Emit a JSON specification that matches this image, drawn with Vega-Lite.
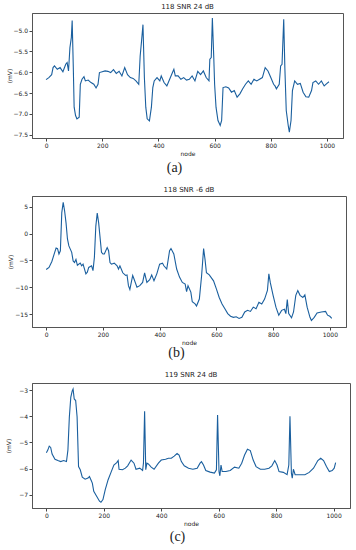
{
  "$schema": "https://vega.github.io/schema/vega-lite/v6.json",
  "padding": {"left": 4, "top": 2, "right": 2, "bottom": 2},
  "background": "white",
  "datasets": {
    "a": [
      {"node": 0, "mv": -6.18}, {"node": 10, "mv": -6.13}, {"node": 20, "mv": -6.06}, {"node": 25, "mv": -5.89}, {"node": 30, "mv": -5.85}, {"node": 40, "mv": -5.93}, {"node": 50, "mv": -5.89}, {"node": 60, "mv": -5.99}, {"node": 70, "mv": -5.81}, {"node": 75, "mv": -5.77}, {"node": 80, "mv": -5.97}, {"node": 85, "mv": -5.41}, {"node": 90, "mv": -5.17}, {"node": 93, "mv": -4.76}, {"node": 97, "mv": -5.89}, {"node": 100, "mv": -6.84}, {"node": 105, "mv": -7.04}, {"node": 110, "mv": -7.12}, {"node": 118, "mv": -7.08}, {"node": 122, "mv": -6.29}, {"node": 128, "mv": -6.17}, {"node": 135, "mv": -6.11}, {"node": 140, "mv": -6.21}, {"node": 150, "mv": -6.19}, {"node": 160, "mv": -6.25}, {"node": 170, "mv": -6.29}, {"node": 178, "mv": -6.38}, {"node": 185, "mv": -6.29}, {"node": 190, "mv": -6.01}, {"node": 200, "mv": -5.99}, {"node": 210, "mv": -5.97}, {"node": 220, "mv": -5.98}, {"node": 230, "mv": -6.01}, {"node": 240, "mv": -5.94}, {"node": 250, "mv": -6.03}, {"node": 260, "mv": -5.98}, {"node": 270, "mv": -6.09}, {"node": 280, "mv": -5.89}, {"node": 290, "mv": -6.06}, {"node": 300, "mv": -6.13}, {"node": 310, "mv": -6.15}, {"node": 320, "mv": -6.21}, {"node": 330, "mv": -6.29}, {"node": 335, "mv": -5.61}, {"node": 340, "mv": -5.25}, {"node": 345, "mv": -4.86}, {"node": 350, "mv": -6.13}, {"node": 355, "mv": -6.84}, {"node": 360, "mv": -7.12}, {"node": 368, "mv": -7.17}, {"node": 375, "mv": -6.84}, {"node": 380, "mv": -6.37}, {"node": 385, "mv": -6.21}, {"node": 395, "mv": -6.13}, {"node": 405, "mv": -6.21}, {"node": 410, "mv": -6.09}, {"node": 420, "mv": -6.25}, {"node": 430, "mv": -6.33}, {"node": 440, "mv": -6.17}, {"node": 450, "mv": -6.01}, {"node": 455, "mv": -5.93}, {"node": 460, "mv": -6.09}, {"node": 470, "mv": -6.09}, {"node": 480, "mv": -6.17}, {"node": 490, "mv": -6.13}, {"node": 500, "mv": -6.19}, {"node": 510, "mv": -6.17}, {"node": 520, "mv": -6.09}, {"node": 530, "mv": -6.21}, {"node": 540, "mv": -5.98}, {"node": 550, "mv": -6.06}, {"node": 560, "mv": -5.97}, {"node": 570, "mv": -6.13}, {"node": 580, "mv": -6.21}, {"node": 583, "mv": -5.69}, {"node": 588, "mv": -5.65}, {"node": 592, "mv": -4.7}, {"node": 597, "mv": -5.65}, {"node": 600, "mv": -6.29}, {"node": 605, "mv": -6.84}, {"node": 612, "mv": -7.16}, {"node": 620, "mv": -7.28}, {"node": 625, "mv": -7.16}, {"node": 630, "mv": -6.37}, {"node": 640, "mv": -6.35}, {"node": 650, "mv": -6.38}, {"node": 660, "mv": -6.48}, {"node": 670, "mv": -6.44}, {"node": 680, "mv": -6.6}, {"node": 690, "mv": -6.52}, {"node": 700, "mv": -6.4}, {"node": 710, "mv": -6.29}, {"node": 720, "mv": -6.21}, {"node": 730, "mv": -6.29}, {"node": 740, "mv": -6.17}, {"node": 750, "mv": -6.21}, {"node": 760, "mv": -6.17}, {"node": 770, "mv": -6.13}, {"node": 780, "mv": -5.89}, {"node": 790, "mv": -5.97}, {"node": 800, "mv": -6.13}, {"node": 810, "mv": -6.29}, {"node": 815, "mv": -6.33}, {"node": 820, "mv": -6.4}, {"node": 830, "mv": -6.29}, {"node": 835, "mv": -5.85}, {"node": 840, "mv": -5.81}, {"node": 846, "mv": -4.73}, {"node": 850, "mv": -5.89}, {"node": 855, "mv": -6.92}, {"node": 862, "mv": -7.28}, {"node": 866, "mv": -7.44}, {"node": 872, "mv": -7.16}, {"node": 877, "mv": -6.44}, {"node": 885, "mv": -6.21}, {"node": 895, "mv": -6.29}, {"node": 905, "mv": -6.27}, {"node": 915, "mv": -6.48}, {"node": 925, "mv": -6.59}, {"node": 935, "mv": -6.6}, {"node": 945, "mv": -6.44}, {"node": 950, "mv": -6.25}, {"node": 960, "mv": -6.21}, {"node": 970, "mv": -6.29}, {"node": 980, "mv": -6.21}, {"node": 990, "mv": -6.33}, {"node": 1000, "mv": -6.27}, {"node": 1007, "mv": -6.23}
    ],
    "b": [
      {"node": 0, "mv": -6.7}, {"node": 10, "mv": -6.3}, {"node": 20, "mv": -5.2}, {"node": 30, "mv": -3.5}, {"node": 35, "mv": -2.7}, {"node": 40, "mv": -2.8}, {"node": 45, "mv": -3.8}, {"node": 50, "mv": -3.2}, {"node": 55, "mv": 3.9}, {"node": 60, "mv": 5.8}, {"node": 65, "mv": 4.2}, {"node": 70, "mv": 2.0}, {"node": 75, "mv": -1.0}, {"node": 80, "mv": -2.3}, {"node": 90, "mv": -3.5}, {"node": 95, "mv": -5.1}, {"node": 100, "mv": -5.4}, {"node": 105, "mv": -4.8}, {"node": 110, "mv": -5.9}, {"node": 120, "mv": -5.5}, {"node": 125, "mv": -6.0}, {"node": 130, "mv": -5.7}, {"node": 140, "mv": -7.5}, {"node": 145, "mv": -7.2}, {"node": 150, "mv": -6.3}, {"node": 160, "mv": -6.0}, {"node": 165, "mv": -6.9}, {"node": 170, "mv": -4.4}, {"node": 175, "mv": 1.4}, {"node": 180, "mv": 3.8}, {"node": 185, "mv": 2.0}, {"node": 195, "mv": -3.5}, {"node": 200, "mv": -3.8}, {"node": 205, "mv": -3.8}, {"node": 215, "mv": -2.6}, {"node": 220, "mv": -3.2}, {"node": 225, "mv": -5.4}, {"node": 230, "mv": -5.7}, {"node": 240, "mv": -5.5}, {"node": 250, "mv": -6.0}, {"node": 255, "mv": -6.6}, {"node": 260, "mv": -6.0}, {"node": 270, "mv": -7.3}, {"node": 280, "mv": -7.8}, {"node": 285, "mv": -7.7}, {"node": 290, "mv": -9.7}, {"node": 295, "mv": -10.4}, {"node": 305, "mv": -7.8}, {"node": 310, "mv": -8.5}, {"node": 320, "mv": -10.0}, {"node": 330, "mv": -9.7}, {"node": 340, "mv": -9.1}, {"node": 347, "mv": -7.3}, {"node": 355, "mv": -9.1}, {"node": 365, "mv": -8.6}, {"node": 372, "mv": -7.7}, {"node": 380, "mv": -8.8}, {"node": 390, "mv": -7.5}, {"node": 400, "mv": -5.7}, {"node": 410, "mv": -5.5}, {"node": 415, "mv": -6.0}, {"node": 425, "mv": -6.6}, {"node": 435, "mv": -3.2}, {"node": 440, "mv": -2.8}, {"node": 450, "mv": -3.8}, {"node": 460, "mv": -6.6}, {"node": 470, "mv": -8.1}, {"node": 480, "mv": -9.1}, {"node": 490, "mv": -9.4}, {"node": 495, "mv": -10.8}, {"node": 500, "mv": -9.7}, {"node": 510, "mv": -10.9}, {"node": 515, "mv": -12.7}, {"node": 525, "mv": -13.1}, {"node": 530, "mv": -13.5}, {"node": 540, "mv": -12.2}, {"node": 548, "mv": -7.8}, {"node": 555, "mv": -2.8}, {"node": 560, "mv": -4.8}, {"node": 565, "mv": -7.3}, {"node": 575, "mv": -7.7}, {"node": 590, "mv": -8.8}, {"node": 600, "mv": -10.3}, {"node": 610, "mv": -11.9}, {"node": 620, "mv": -13.1}, {"node": 630, "mv": -14.0}, {"node": 640, "mv": -14.9}, {"node": 650, "mv": -15.4}, {"node": 660, "mv": -15.6}, {"node": 670, "mv": -15.5}, {"node": 680, "mv": -15.8}, {"node": 690, "mv": -15.6}, {"node": 700, "mv": -14.6}, {"node": 710, "mv": -14.3}, {"node": 720, "mv": -14.5}, {"node": 730, "mv": -13.7}, {"node": 740, "mv": -14.0}, {"node": 750, "mv": -12.8}, {"node": 760, "mv": -13.1}, {"node": 770, "mv": -12.2}, {"node": 780, "mv": -10.6}, {"node": 785, "mv": -7.5}, {"node": 790, "mv": -9.1}, {"node": 800, "mv": -11.5}, {"node": 810, "mv": -13.7}, {"node": 820, "mv": -15.2}, {"node": 830, "mv": -14.3}, {"node": 840, "mv": -14.1}, {"node": 845, "mv": -14.9}, {"node": 850, "mv": -12.3}, {"node": 855, "mv": -14.9}, {"node": 865, "mv": -15.7}, {"node": 872, "mv": -14.6}, {"node": 880, "mv": -11.5}, {"node": 887, "mv": -10.6}, {"node": 895, "mv": -11.5}, {"node": 905, "mv": -11.9}, {"node": 912, "mv": -11.4}, {"node": 920, "mv": -13.7}, {"node": 930, "mv": -15.6}, {"node": 935, "mv": -16.2}, {"node": 945, "mv": -15.6}, {"node": 955, "mv": -14.8}, {"node": 970, "mv": -14.6}, {"node": 985, "mv": -14.5}, {"node": 992, "mv": -15.2}, {"node": 1000, "mv": -15.4}, {"node": 1007, "mv": -15.8}
    ],
    "c": [
      {"node": 0, "mv": -5.39}, {"node": 5, "mv": -5.29}, {"node": 10, "mv": -5.14}, {"node": 15, "mv": -5.19}, {"node": 20, "mv": -5.44}, {"node": 30, "mv": -5.64}, {"node": 40, "mv": -5.69}, {"node": 50, "mv": -5.73}, {"node": 60, "mv": -5.69}, {"node": 70, "mv": -5.73}, {"node": 75, "mv": -5.29}, {"node": 80, "mv": -4.03}, {"node": 85, "mv": -3.28}, {"node": 90, "mv": -3.03}, {"node": 93, "mv": -2.96}, {"node": 97, "mv": -3.34}, {"node": 102, "mv": -3.4}, {"node": 107, "mv": -4.03}, {"node": 112, "mv": -5.92}, {"node": 118, "mv": -6.04}, {"node": 125, "mv": -6.32}, {"node": 135, "mv": -6.4}, {"node": 145, "mv": -6.36}, {"node": 150, "mv": -6.3}, {"node": 155, "mv": -6.42}, {"node": 160, "mv": -6.55}, {"node": 165, "mv": -6.86}, {"node": 175, "mv": -7.05}, {"node": 185, "mv": -7.24}, {"node": 190, "mv": -7.28}, {"node": 197, "mv": -7.18}, {"node": 205, "mv": -6.8}, {"node": 215, "mv": -6.42}, {"node": 225, "mv": -6.14}, {"node": 235, "mv": -5.86}, {"node": 245, "mv": -5.77}, {"node": 250, "mv": -5.69}, {"node": 253, "mv": -6.02}, {"node": 265, "mv": -6.04}, {"node": 275, "mv": -5.98}, {"node": 283, "mv": -5.89}, {"node": 295, "mv": -5.67}, {"node": 305, "mv": -5.79}, {"node": 312, "mv": -6.02}, {"node": 325, "mv": -5.98}, {"node": 335, "mv": -6.07}, {"node": 338, "mv": -5.79}, {"node": 342, "mv": -3.81}, {"node": 346, "mv": -6.04}, {"node": 350, "mv": -5.79}, {"node": 355, "mv": -5.82}, {"node": 365, "mv": -5.94}, {"node": 375, "mv": -6.02}, {"node": 390, "mv": -5.79}, {"node": 400, "mv": -5.67}, {"node": 415, "mv": -5.64}, {"node": 425, "mv": -5.6}, {"node": 435, "mv": -5.6}, {"node": 445, "mv": -5.52}, {"node": 455, "mv": -5.42}, {"node": 462, "mv": -5.48}, {"node": 470, "mv": -5.73}, {"node": 480, "mv": -5.89}, {"node": 495, "mv": -5.98}, {"node": 510, "mv": -6.02}, {"node": 525, "mv": -5.98}, {"node": 535, "mv": -5.79}, {"node": 540, "mv": -5.73}, {"node": 547, "mv": -5.86}, {"node": 555, "mv": -6.07}, {"node": 570, "mv": -6.13}, {"node": 585, "mv": -6.17}, {"node": 592, "mv": -6.04}, {"node": 596, "mv": -3.95}, {"node": 601, "mv": -6.11}, {"node": 604, "mv": -6.27}, {"node": 608, "mv": -5.86}, {"node": 612, "mv": -6.11}, {"node": 625, "mv": -6.11}, {"node": 640, "mv": -6.07}, {"node": 655, "mv": -5.94}, {"node": 670, "mv": -5.98}, {"node": 680, "mv": -5.79}, {"node": 690, "mv": -5.48}, {"node": 700, "mv": -5.26}, {"node": 710, "mv": -5.31}, {"node": 720, "mv": -5.67}, {"node": 730, "mv": -5.92}, {"node": 745, "mv": -6.02}, {"node": 760, "mv": -6.02}, {"node": 775, "mv": -5.98}, {"node": 785, "mv": -5.89}, {"node": 795, "mv": -5.69}, {"node": 803, "mv": -5.86}, {"node": 810, "mv": -6.11}, {"node": 825, "mv": -6.14}, {"node": 838, "mv": -6.23}, {"node": 844, "mv": -5.86}, {"node": 848, "mv": -4.0}, {"node": 853, "mv": -6.17}, {"node": 856, "mv": -6.36}, {"node": 860, "mv": -6.02}, {"node": 866, "mv": -6.23}, {"node": 880, "mv": -6.23}, {"node": 900, "mv": -6.23}, {"node": 915, "mv": -6.14}, {"node": 930, "mv": -5.98}, {"node": 945, "mv": -5.69}, {"node": 955, "mv": -5.6}, {"node": 965, "mv": -5.69}, {"node": 975, "mv": -5.92}, {"node": 985, "mv": -6.11}, {"node": 995, "mv": -6.07}, {"node": 1002, "mv": -5.98}, {"node": 1007, "mv": -5.77}
    ]
  },
  "spacing": 10,
  "vconcat": [
    {
      "title": {"text": "(a)", "orient": "bottom", "anchor": "middle", "font": "Liberation Serif", "fontSize": 14, "offset": 4},
      "vconcat": [
        {
          "title": "118 SNR 24 dB",
          "width": 311,
          "height": 125,
          "data": {"name": "a"},
          "mark": {"type": "line", "color": "#1a5f9e", "strokeWidth": 1.1},
          "encoding": {
            "x": {"field": "node", "type": "quantitative", "scale": {"domain": [-50, 1057], "nice": false, "zero": false}, "axis": {"values": [0, 200, 400, 600, 800, 1000], "format": "d", "title": "node"}},
            "y": {"field": "mv", "type": "quantitative", "scale": {"domain": [-7.58, -4.58], "nice": false, "zero": false}, "axis": {"values": [-5, -5.5, -6, -6.5, -7, -7.5], "format": ".1f", "title": "(mV)", "minExtent": 18, "maxExtent": 18}}
          }
        }
      ]
    },
    {
      "title": {"text": "(b)", "orient": "bottom", "anchor": "middle", "font": "Liberation Serif", "fontSize": 14, "offset": 0},
      "vconcat": [
        {
          "title": "118 SNR -6 dB",
          "width": 314,
          "height": 131,
          "data": {"name": "b"},
          "mark": {"type": "line", "color": "#1a5f9e", "strokeWidth": 1.1},
          "encoding": {
            "x": {"field": "node", "type": "quantitative", "scale": {"domain": [-50, 1057], "nice": false, "zero": false}, "axis": {"values": [0, 200, 400, 600, 800, 1000], "format": "d", "title": "node"}},
            "y": {"field": "mv", "type": "quantitative", "scale": {"domain": [-17.4, 7.0], "nice": false, "zero": false}, "axis": {"values": [5, 0, -5, -10, -15], "title": "(mV)", "minExtent": 17, "maxExtent": 17}}
          }
        }
      ]
    },
    {
      "title": {"text": "(c)", "orient": "bottom", "anchor": "middle", "font": "Liberation Serif", "fontSize": 14, "offset": 3},
      "vconcat": [
        {
          "title": {"text": "119 SNR 24 dB", "offset": 5},
          "width": 318,
          "height": 125,
          "data": {"name": "c"},
          "mark": {"type": "line", "color": "#1a5f9e", "strokeWidth": 1.1},
          "encoding": {
            "x": {"field": "node", "type": "quantitative", "scale": {"domain": [-50, 1057], "nice": false, "zero": false}, "axis": {"values": [0, 200, 400, 600, 800, 1000], "format": "d", "title": "node"}},
            "y": {"field": "mv", "type": "quantitative", "scale": {"domain": [-7.5, -2.73], "nice": false, "zero": false}, "axis": {"values": [-3, -4, -5, -6, -7], "title": "(mV)", "minExtent": 19, "maxExtent": 19}}
          }
        }
      ]
    }
  ],
  "config": {
    "font": "DejaVu Sans",
    "view": {"stroke": "#555555", "strokeWidth": 1},
    "axis": {"grid": false, "labelFontSize": 6, "titleFontSize": 6, "titleFontWeight": "normal", "labelColor": "#222222", "titleColor": "#222222", "tickColor": "#444444", "domainColor": "#555555", "tickSize": 3, "labelPadding": 1.5, "titlePadding": 2, "labelFont": "DejaVu Sans", "titleFont": "DejaVu Sans"},
    "title": {"fontSize": 7, "fontWeight": "normal", "color": "#222222", "offset": 3, "font": "DejaVu Sans"}
  }
}
